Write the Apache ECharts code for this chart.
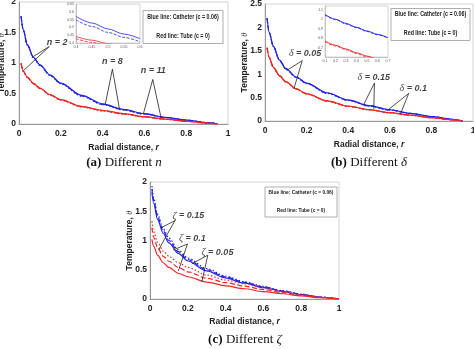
<!DOCTYPE html>
<html>
<head>
<meta charset="utf-8">
<script src="https://cdn.jsdelivr.net/npm/echarts@6/dist/echarts.min.js"></script>
<style>
  html, body { margin: 0; padding: 0; background: #fff; }
  #chart { width: 474px; height: 349px; }
</style>
</head>
<body>
<div id="chart"></div>
<script>
// ---- radial positions sampled for each panel ----
const rAB = [0.01, 0.02, 0.04, 0.07, 0.1, 0.15, 0.2, 0.3, 0.4, 0.5, 0.6, 0.7, 0.8, 0.9, 0.95];
const rC  = [0.01, 0.02, 0.04, 0.07, 0.1, 0.15, 0.2, 0.3, 0.4, 0.5, 0.6, 0.7, 0.8, 0.9, 1.0];

// ---- (a) different n : temperature profiles ----
const catheterN2  = [1.77, 1.55, 1.30, 1.09, 0.97, 0.80, 0.67, 0.470, 0.330, 0.240, 0.170, 0.110, 0.065, 0.025, 0];
const catheterN8  = [1.765, 1.545, 1.295, 1.085, 0.965, 0.795, 0.664, 0.462, 0.323, 0.234, 0.165, 0.107, 0.063, 0.024, 0];
const catheterN11 = [1.76, 1.54, 1.29, 1.08, 0.96, 0.79, 0.658, 0.455, 0.317, 0.229, 0.161, 0.104, 0.061, 0.023, 0];
const tubeN2  = [1.00, 0.87, 0.77, 0.665, 0.59, 0.48, 0.40, 0.290, 0.225, 0.170, 0.120, 0.080, 0.045, 0.015, 0];
const tubeN8  = [0.995, 0.865, 0.765, 0.66, 0.585, 0.475, 0.395, 0.284, 0.219, 0.165, 0.117, 0.078, 0.044, 0.014, 0];
const tubeN11 = [0.99, 0.86, 0.76, 0.655, 0.58, 0.47, 0.39, 0.279, 0.214, 0.161, 0.114, 0.076, 0.043, 0.014, 0];

// ---- (b) different delta ----
const catheterD05 = [2.20, 1.90, 1.60, 1.30, 1.12, 0.94, 0.81, 0.600, 0.450, 0.330, 0.240, 0.165, 0.095, 0.035, 0];
const catheterD10 = [2.195, 1.895, 1.595, 1.295, 1.115, 0.935, 0.805, 0.593, 0.444, 0.325, 0.236, 0.162, 0.093, 0.034, 0];
const catheterD15 = [2.19, 1.89, 1.59, 1.29, 1.11, 0.93, 0.80, 0.587, 0.438, 0.320, 0.232, 0.159, 0.091, 0.033, 0];
const tubeD05 = [1.57, 1.36, 1.15, 0.97, 0.84, 0.69, 0.585, 0.430, 0.320, 0.245, 0.180, 0.125, 0.070, 0.025, 0];
const tubeD10 = [1.565, 1.355, 1.145, 0.965, 0.835, 0.685, 0.580, 0.425, 0.315, 0.241, 0.177, 0.123, 0.069, 0.024, 0];
const tubeD15 = [1.56, 1.35, 1.14, 0.96, 0.83, 0.68, 0.575, 0.420, 0.310, 0.237, 0.174, 0.121, 0.068, 0.024, 0];

// ---- (c) different zeta ----
const catheterZ15 = [1.93, 1.72, 1.45, 1.20, 1.04, 0.84, 0.70, 0.52, 0.39, 0.295, 0.215, 0.145, 0.085, 0.035, 0];
const catheterZ10 = [1.88, 1.68, 1.41, 1.16, 1.00, 0.81, 0.675, 0.50, 0.375, 0.283, 0.205, 0.138, 0.080, 0.032, 0];
const catheterZ05 = [1.82, 1.63, 1.36, 1.12, 0.96, 0.78, 0.65, 0.48, 0.36, 0.270, 0.195, 0.130, 0.075, 0.030, 0];
const tubeZ15 = [1.33, 1.15, 0.97, 0.82, 0.73, 0.62, 0.54, 0.41, 0.325, 0.260, 0.190, 0.130, 0.075, 0.032, 0];
const tubeZ10 = [1.22, 1.05, 0.88, 0.73, 0.645, 0.54, 0.465, 0.355, 0.280, 0.220, 0.160, 0.110, 0.064, 0.027, 0];
const tubeZ05 = [1.02, 0.90, 0.75, 0.62, 0.54, 0.44, 0.38, 0.29, 0.225, 0.175, 0.125, 0.090, 0.052, 0.021, 0];

// ---- magnified views ----
const insetRA = [0.4, 0.45, 0.5, 0.55, 0.6];
const insetCathSolidA  = [0.570, 0.528, 0.490, 0.457, 0.428];
const insetCathDashA   = [0.548, 0.506, 0.468, 0.436, 0.408];
const insetTubeSolidA  = [0.442, 0.418, 0.396, 0.376, 0.358];
const insetTubeDashA   = [0.428, 0.404, 0.382, 0.362, 0.344];
const insetRB = [0.1, 0.2, 0.3, 0.4, 0.5, 0.6, 0.7];
const insetCathSolidB  = [1.050, 1.000, 0.955, 0.915, 0.875, 0.840, 0.805];
const insetCathDashB   = [1.045, 0.995, 0.950, 0.910, 0.870, 0.835, 0.800];
const insetTubeSolidB  = [0.770, 0.725, 0.685, 0.645, 0.610, 0.580, 0.550];
const insetTubeDashB   = [0.762, 0.717, 0.677, 0.637, 0.602, 0.572, 0.542];

// ---- callouts: label anchor, then pointer (end, apex, end) in data units ----
const calloutsA = [
  { text: 'n = 2',  at: [0.182, 1.34], path: [[0.061, 1.09], [0.145, 1.27], [0.020, 0.87]] },
  { text: 'n = 8',  at: [0.447, 1.02], path: [[0.412, 0.31], [0.447, 0.90], [0.481, 0.24]] },
  { text: 'n = 11', at: [0.642, 0.87], path: [[0.596, 0.18], [0.640, 0.73], [0.680, 0.10]] }
];
const calloutsB = [
  { sym: 'δ', val: ' = 0.05', at: [0.193, 1.44], path: [[0.104, 1.08], [0.179, 1.29], [0.139, 0.69]] },
  { sym: 'δ', val: ' = 0.15', at: [0.523, 0.93], path: [[0.472, 0.33], [0.526, 0.81], [0.523, 0.26]] },
  { sym: 'δ', val: ' = 0.1',  at: [0.713, 0.69], path: [[0.587, 0.22], [0.691, 0.59], [0.651, 0.15]] }
];
const calloutsC = [
  { sym: 'ζ', val: ' = 0.15', at: [0.203, 1.42], path: [[0.060, 1.22], [0.132, 1.34], [0.045, 0.84]] },
  { sym: 'ζ', val: ' = 0.1',  at: [0.224, 1.03], path: [[0.124, 0.84], [0.198, 0.94], [0.150, 0.48]] },
  { sym: 'ζ', val: ' = 0.05', at: [0.357, 0.80], path: [[0.221, 0.60], [0.306, 0.75], [0.274, 0.29]] }
];

const BLUE = '#2424e6';
const RED = '#ee2626';
const SANS = 'Liberation Sans, Arial, sans-serif';
const SERIF = 'Liberation Serif, Times New Roman, serif';
const DASH = [5, 2.5];
const DOT = [1.5, 2];

const pairs = (xs, ys) => xs.map((x, i) => [x, ys[i]]);

function curve(idx, xs, ys, color, type, width) {
  return {
    type: 'line', xAxisIndex: idx, yAxisIndex: idx, data: pairs(xs, ys),
    symbol: 'none', smooth: 0.3, smoothMonotone: 'x', silent: true, z: 3,
    lineStyle: { color: color, width: width || 1.2, type: type }
  };
}

function callout(idx, c) {
  const text = c.text ? '{t|' + c.text + '}' : '{s|' + c.sym + '}{t|' + c.val + '}';
  return [
    {
      type: 'line', xAxisIndex: idx, yAxisIndex: idx, data: c.path, symbol: 'none',
      silent: true, z: 5, lineStyle: { color: '#222', width: 0.8 }
    },
    {
      type: 'scatter', xAxisIndex: idx, yAxisIndex: idx, data: [c.at], symbolSize: 1,
      silent: true, z: 6, itemStyle: { color: 'transparent' },
      label: {
        show: true, position: 'inside', formatter: text,
        rich: {
          t: { fontFamily: SANS, fontSize: 9, fontWeight: 'bold', fontStyle: 'italic', color: '#111' },
          s: { fontFamily: SERIF, fontSize: 10, fontStyle: 'italic', color: '#111' }
        }
      }
    }
  ];
}

function mainX(idx, gap) {
  return {
    gridIndex: idx, type: 'value', min: 0, max: 1, interval: 0.2,
    name: '{n|Radial distance, }{i|r}', nameLocation: 'middle', nameGap: gap, nameMoveOverlap: false,
    nameTextStyle: { rich: {
      n: { fontFamily: SANS, fontSize: 8.5, fontWeight: 'bold', color: '#222' },
      i: { fontFamily: SANS, fontSize: 8.5, fontWeight: 'bold', fontStyle: 'italic', color: '#222' } } },
    axisLine: { lineStyle: { color: '#999', width: 1 } },
    axisTick: { show: false },
    axisLabel: { fontFamily: SANS, fontSize: 8.5, fontWeight: 'bold', color: '#222', margin: 5 },
    splitLine: { show: false }
  };
}

function mainY(idx, max, gap) {
  return {
    gridIndex: idx, type: 'value', min: 0, max: max, interval: 0.5,
    name: '{n|Temperature, }{i|θ}', nameLocation: 'middle', nameGap: gap, nameRotate: 90,
    nameMoveOverlap: false,
    nameTextStyle: { rich: {
      n: { fontFamily: SANS, fontSize: 8.5, fontWeight: 'bold', color: '#222' },
      i: { fontFamily: SERIF, fontSize: 8.5, fontStyle: 'italic', color: '#222' } } },
    axisLine: { lineStyle: { color: '#999', width: 1 } },
    axisTick: { show: false },
    axisLabel: { fontFamily: SANS, fontSize: 8.5, fontWeight: 'bold', color: '#222', margin: 3 },
    splitLine: { show: false }
  };
}

function insetAxis(idx, min, max, interval, isY) {
  return {
    gridIndex: idx, type: 'value', min: min, max: max, interval: interval,
    axisLine: { lineStyle: { color: '#aaa', width: 0.6 } },
    axisTick: { show: false },
    axisLabel: { fontFamily: SANS, fontSize: 3.5, color: '#555', margin: 2,
                 showMinLabel: !isY || idx === 3, showMaxLabel: !(isY && idx === 4),
                 hideOverlap: false },
    splitLine: { show: false }
  };
}

function legendBox(x, y, w, h, fs, sx) {
  const style = { fontFamily: SANS, fontSize: fs, fontWeight: 'bold', fill: '#222',
                  textAlign: 'center', textVerticalAlign: 'middle' };
  return [
    { type: 'rect', shape: { x: x, y: y, width: w, height: h }, style: { fill: '#fff', stroke: '#999', lineWidth: 0.8 }, z: 10 },
    { type: 'text', x: x + w / 2, y: y + h * 0.19, scaleX: sx, style: Object.assign({ text: 'Blue line: Catheter (c = 0.06)' }, style), z: 11 },
    { type: 'text', x: x + w / 2, y: y + h * 0.77, scaleX: sx, style: Object.assign({ text: 'Red line: Tube (c = 0)' }, style), z: 11 }
  ];
}

function caption(cx, cy, tag, sym) {
  return {
    type: 'text', x: cx, y: cy, z: 11,
    style: {
      text: '{b|(' + tag + ')} {r|Different} {i|' + sym + '}',
      textAlign: 'center', textVerticalAlign: 'middle',
      rich: {
        b: { fontFamily: SERIF, fontSize: 13, fontWeight: 'bold', fill: '#111' },
        r: { fontFamily: SERIF, fontSize: 13, fill: '#111' },
        i: { fontFamily: SERIF, fontSize: 13, fontStyle: 'italic', fill: '#111' }
      }
    }
  };
}

const gridBase = { show: true, borderColor: '#d4d4d4', borderWidth: 1, backgroundColor: '#fff',
                   containLabel: false, outerBoundsMode: 'none' };

const series = [
  // (a)
  curve(0, rAB, catheterN2, BLUE, 'solid'),
  curve(0, rAB, catheterN8, BLUE, DASH),
  curve(0, rAB, catheterN11, BLUE, DOT),
  curve(0, rAB, tubeN2, RED, 'solid'),
  curve(0, rAB, tubeN8, RED, DASH),
  curve(0, rAB, tubeN11, RED, DOT),
  // (b)
  curve(1, rAB, catheterD05, BLUE, 'solid'),
  curve(1, rAB, catheterD10, BLUE, DASH),
  curve(1, rAB, catheterD15, BLUE, DOT),
  curve(1, rAB, tubeD05, RED, 'solid'),
  curve(1, rAB, tubeD10, RED, DASH),
  curve(1, rAB, tubeD15, RED, DOT),
  // (c)
  curve(2, rC, catheterZ15, BLUE, DOT),
  curve(2, rC, catheterZ10, BLUE, DASH),
  curve(2, rC, catheterZ05, BLUE, 'solid'),
  curve(2, rC, tubeZ15, RED, DOT),
  curve(2, rC, tubeZ10, RED, DASH),
  curve(2, rC, tubeZ05, RED, 'solid'),
  // magnified views
  curve(3, insetRA, insetCathSolidA, BLUE, 'solid', 0.8),
  curve(3, insetRA, insetCathDashA, BLUE, [3, 1.5], 0.8),
  curve(3, insetRA, insetTubeSolidA, RED, 'solid', 0.8),
  curve(3, insetRA, insetTubeDashA, RED, [3, 1.5], 0.8),
  curve(4, insetRB, insetCathSolidB, BLUE, 'solid', 0.9),
  curve(4, insetRB, insetCathDashB, BLUE, [3, 1.5], 0.9),
  curve(4, insetRB, insetTubeSolidB, RED, 'solid', 0.9),
  curve(4, insetRB, insetTubeDashB, RED, [3, 1.5], 0.9)
];
calloutsA.forEach(c => series.push(...callout(0, c)));
calloutsB.forEach(c => series.push(...callout(1, c)));
calloutsC.forEach(c => series.push(...callout(2, c)));

const chart = echarts.init(document.getElementById('chart'), null, { renderer: 'canvas' });
chart.setOption({
  animation: false,
  backgroundColor: '#fff',
  grid: [
    Object.assign({ left: 19, top: 2, width: 209, height: 122 }, gridBase),
    Object.assign({ left: 265, top: 4, width: 208, height: 117 }, gridBase),
    Object.assign({ left: 150, top: 182, width: 189, height: 117 }, gridBase),
    Object.assign({ left: 76, top: 4, width: 64, height: 39 }, gridBase),
    Object.assign({ left: 325, top: 6, width: 63, height: 51 }, gridBase)
  ],
  xAxis: [
    mainX(0, 19), mainX(1, 19), mainX(2, 18),
    insetAxis(3, 0.4, 0.6, 0.05, false),
    insetAxis(4, 0.1, 0.7, 0.1, false)
  ],
  yAxis: [
    mainY(0, 2, 13), mainY(1, 2.5, 16), mainY(2, 2, 16),
    insetAxis(3, 0.4, 0.65, 0.05, true),
    insetAxis(4, 0.6, 1.14, 0.1, true)
  ],
  series: series,
  graphic: [].concat(
    legendBox(143, 10.5, 80, 33, 6.5, 0.82),
    legendBox(391, 8.5, 79, 32, 6.5, 0.82),
    legendBox(265, 187, 72, 30, 6.2, 0.78),
    [caption(124, 163, 'a', 'n'), caption(369, 163, 'b', 'δ'), caption(245, 340, 'c', 'ζ')]
  )
});
</script>
</body>
</html>
